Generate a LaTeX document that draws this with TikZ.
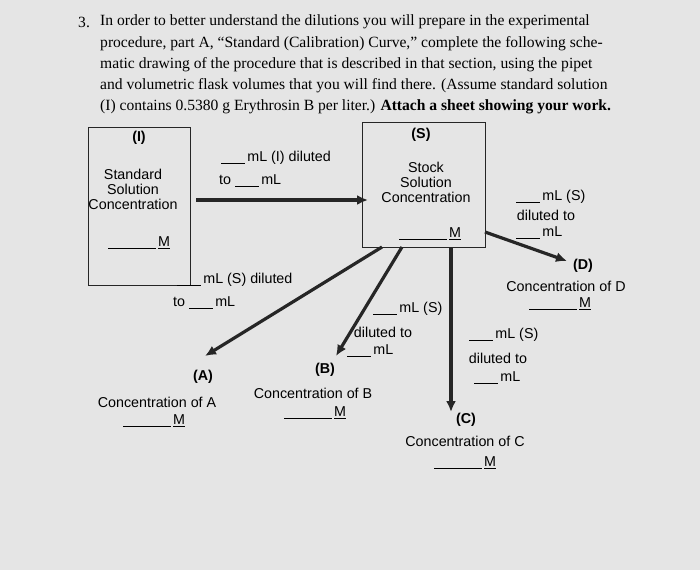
\documentclass[tikz,border=0pt]{standalone}
\usepackage{fontspec}
\setmainfont{Liberation Serif}
\newfontfamily\hv{Liberation Sans}
\begin{document}
\begin{tikzpicture}[x=1pt,y=-1pt,
 t/.style={font=\hv\fontsize{14.3}{15}\selectfont,align=center,inner sep=1pt},
 hd/.style={font=\fontsize{15.6}{17}\selectfont,anchor=west,inner sep=0pt},
 ar/.style={-{Latex[length=11pt,width=10pt]},line width=3.2pt,gray!30!black},
 bx/.style={draw,line width=1.2pt,gray!30!black}]
\usetikzlibrary{arrows.meta}
\fill[black!10] (0,0) rectangle (700,570);
\useasboundingbox (0,0) rectangle (700,570);
\node[hd] (h0) at (78,22) {3.};
\node[hd] (h1) at (100,22) {In order to better understand the dilutions you will prepare in the experimental};
\node[hd] (h2) at (100,44) {procedure, part A, “Standard (Calibration) Curve,” complete the following sche-};
\node[hd] (h3) at (100,65) {matic drawing of the procedure that is described in that section, using the pipet};
\node[hd] (h4) at (100,86) {and volumetric flask volumes that you will find there. (Assume standard solution};
\node[hd] (h5) at (100,107) {(I) contains 0.5380 g Erythrosin B per liter.) \textbf{Attach a sheet showing your work.}};
\node[bx,minimum width=102,minimum height=158,anchor=north west] (I) at (88,127) {};
\node[bx,minimum width=123,minimum height=125,anchor=north west] (S) at (362,122) {};
\node[t] (il) at (139,138) {\textbf{(I)}};
\node[t] (it) at (133,189) {Standard\\Solution\\Concentration};
\node[t] (im) at (139,243) {\underline{\hphantom{MMMM}}\,\underline{M}};
\node[t] (sl) at (421,135) {\textbf{(S)}};
\node[t] (st) at (426,182) {Stock\\Solution\\Concentration};
\node[t] (sm) at (430,234) {\underline{\hphantom{MMMM}}\,\underline{M}};
\coordinate (i1) at (196,200);
\coordinate (s1) at (368,200);
\draw[ar] (i1) -- (s1);
\node[t,anchor=west] (l1) at (220,158) {\underline{\hphantom{MM}}\,mL (I) diluted};
\node[t,anchor=west] (l2) at (218,181) {to \underline{\hphantom{MM}}\,mL};
\coordinate (s2) at (382,247); \coordinate (a) at (205,356);
\draw[ar] (s2) -- (a);
\coordinate (s3) at (402,247); \coordinate (b) at (336,356);
\draw[ar] (s3) -- (b);
\coordinate (s4) at (451,247); \coordinate (c) at (451,412);
\draw[ar] (s4) -- (c);
\coordinate (s5) at (485,232); \coordinate (d) at (567,261);
\draw[ar] (s5) -- (d);
\node[t,anchor=west] (ds1) at (515,197) {\underline{\hphantom{MM}}\,mL (S)};
\node[t] (ds2) at (546,215) {diluted to};
\node[t,anchor=west] (ds3) at (515,233) {\underline{\hphantom{MM}}\,mL};
\node[t] (dl) at (583,266) {\textbf{(D)}};
\node[t] (dc) at (566,286) {Concentration of D};
\node[t] (dm) at (560,304) {\underline{\hphantom{MMMM}}\,\underline{M}};
\node[t,anchor=west] (as1) at (176,280) {\underline{\hphantom{MM}}\,mL (S) diluted};
\node[t,anchor=west] (as2) at (172,303) {to \underline{\hphantom{MM}}\,mL};
\node[t] (al) at (203,377) {\textbf{(A)}};
\node[t] (ac) at (157,402) {Concentration of A};
\node[t] (am) at (154,421) {\underline{\hphantom{MMMM}}\,\underline{M}};
\node[t,anchor=west] (bs1) at (372,309) {\underline{\hphantom{MM}}\,mL (S)};
\node[t] (bs2) at (383,332) {diluted to};
\node[t,anchor=west] (bs3) at (346,351) {\underline{\hphantom{MM}}\,mL};
\node[t] (bl) at (325,370) {\textbf{(B)}};
\node[t] (bc) at (313,393) {Concentration of B};
\node[t] (bm) at (315,413) {\underline{\hphantom{MMMM}}\,\underline{M}};
\node[t,anchor=west] (cs1) at (468,335) {\underline{\hphantom{MM}}\,mL (S)};
\node[t] (cs2) at (498,358) {diluted to};
\node[t,anchor=west] (cs3) at (473,378) {\underline{\hphantom{MM}}\,mL};
\node[t] (cl) at (466,420) {\textbf{(C)}};
\node[t] (cc) at (465,441) {Concentration of C};
\node[t] (cm) at (465,463) {\underline{\hphantom{MMMM}}\,\underline{M}};
\end{tikzpicture}
\end{document}
